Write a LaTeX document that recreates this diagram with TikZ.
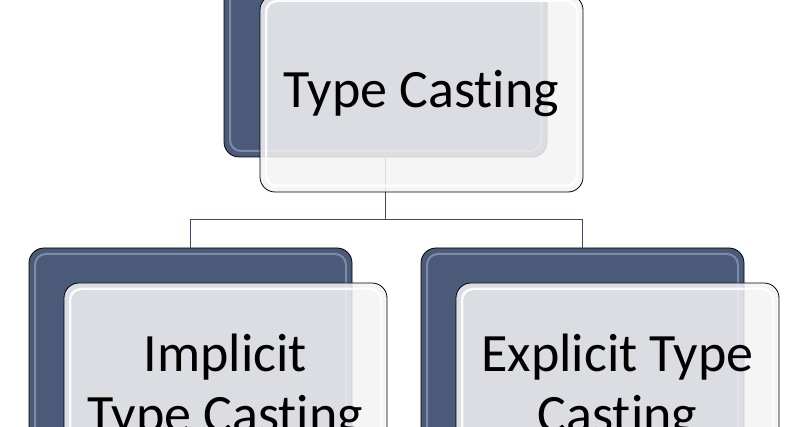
\documentclass[tikz,border=0pt]{standalone}
\usepackage{fontspec}
\setmainfont{Carlito}[Ligatures=NoCommon]
\usetikzlibrary{positioning}

\definecolor{slateblue}{RGB}{74,90,120}
\definecolor{rimblue}{RGB}{160,174,198}
\definecolor{paneface}{RGB}{243,243,245}
\definecolor{wirecol}{RGB}{60,74,100}

\begin{document}
\begin{tikzpicture}[x=1pt, y=1pt, thick, every node/.style={transform shape}]
\tikzset{
  backbox/.style={
    draw=black, line width=.8pt, fill=slateblue, rectangle, rounded corners=15pt,
    minimum width=323pt, minimum height=197pt,
    path picture={\draw[rimblue, line width=2pt, opacity=.6, rounded corners=11pt]
      ([shift={(6pt,-6pt)}]path picture bounding box.north west) rectangle
      ([shift={(-6pt,6pt)}]path picture bounding box.south east);}
  },
  frontbox/.style={
    draw=black, line width=.8pt, fill=paneface, fill opacity=.86, text opacity=1,
    rectangle, rounded corners=15pt,
    minimum width=323pt, minimum height=197pt, inner sep=0pt,
    align=center, font=\fontsize{54}{61}\selectfont,
    path picture={\draw[white, line width=2.5pt, opacity=.9, rounded corners=11pt]
      ([shift={(6pt,-6pt)}]path picture bounding box.north west) rectangle
      ([shift={(-6pt,6pt)}]path picture bounding box.south east);}
  },
  wire/.style={draw=wirecol, line width=.8pt}
}
\useasboundingbox (0,0) rectangle (811,426);

\node[backbox] (rootback) at (385.5, 367.5) {};
\node[backbox, minimum height=210pt] (implback) at (190.5, 73) {};
\node[backbox, minimum height=210pt] (explback) at (582.5, 73) {};

\draw[wire] (rootback.south) -- ++(0,-62) coordinate (fork) -| (implback.north);
\draw[wire] (fork) -| (explback.north);

\node[frontbox] (root) at (421.5, 332.5) {Type Casting};
\node[frontbox, minimum height=210pt] (impl) at (225.5, 38) {Implicit\\Type Casting};
\node[frontbox, minimum height=210pt] (expl) at (617.5, 38) {Explicit Type\\Casting};
\end{tikzpicture}
\end{document}
